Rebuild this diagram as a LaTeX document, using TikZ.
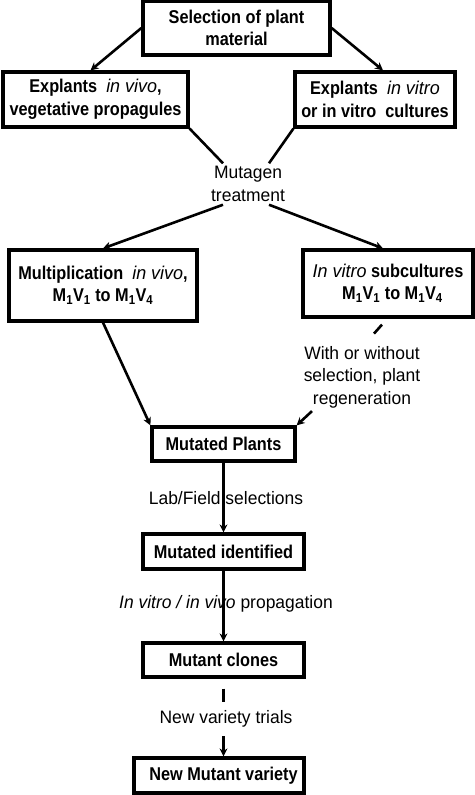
\documentclass[tikz,border=0pt]{standalone}
\usepackage{fontspec}
\setmainfont{Liberation Sans}[FakeStretch=0.97,BoldFeatures={FakeStretch=0.88}]
\usetikzlibrary{arrows.meta}
\begin{document}
\begin{tikzpicture}[x=1pt,y=-1pt,font=\fontsize{18}{22.5}\selectfont,
    >={Stealth[length=8pt,width=8pt]}]

      \useasboundingbox (0,0) rectangle (474,795);

      \begin{scope}[every node/.style={draw,line width=3.2pt,align=center,inner sep=0pt,
          font=\fontsize{18.5}{22.5}\selectfont\bfseries}]
        \node[minimum width=187pt,minimum height=54pt] (sel)    at (236.5,28)  {Selection of plant\\material};
        \node[minimum width=185pt,minimum height=55pt] (vivo)   at (95.5,99.5) {Explants\ \ {\mdseries\itshape in vivo},\\vegetative propagules};
        \node[minimum width=160pt,minimum height=55pt] (vitro)  at (375,99.5)  {Explants\ \ {\mdseries\itshape in vitro}\\or in vitro\ \ cultures};
        \node[minimum width=188pt,minimum height=71pt] (mult)   at (103,285.5) {Multiplication\ \ {\mdseries\itshape in vivo},\\M\textsubscript{1}V\textsubscript{1} to M\textsubscript{1}V\textsubscript{4}};
        \node[minimum width=170pt,minimum height=67pt] (sub)    at (388,283.5) {{\mdseries\itshape In vitro} subcultures\\\ \ M\textsubscript{1}V\textsubscript{1} to M\textsubscript{1}V\textsubscript{4}};
        \node[minimum width=143pt,minimum height=34pt] (plants) at (223.5,444) {Mutated Plants};
        \node[minimum width=161pt,minimum height=35pt] (ident)  at (223.5,551.5) {Mutated identified};
        \node[minimum width=161pt,minimum height=34pt] (clones) at (223.5,660) {Mutant clones};
        \node[minimum width=170pt,minimum height=35pt] (newvar) at (219,775.5) {\ \ New Mutant variety};
      \end{scope}

      \begin{scope}[every node/.style={align=center,inner sep=3pt}]
        \node (mutagen) at (248,184) {Mutagen\\treatment};
        \node (regen)   at (362,377) {With or without\\selection, plant\\regeneration};
        \node (labsel)  at (226,498) {Lab/Field selections};
        \node (prop)    at (226,604) {\textit{In vitro / in vivo} propagation};
        \node[minimum height=34pt] (trials) at (226,719) {New variety trials};
      \end{scope}

      \begin{scope}[line width=2.6pt]
        \begin{scope}[every edge/.style={draw}]
          \path (sel.west)  edge[->] ([xshift=-5pt]vivo.north);
          \path (sel.east)  edge[->] ([xshift=8pt]vitro.north);
          \path (vivo.south east)  edge ([xshift=-25pt]mutagen.north);
          \path (vitro.south west) edge ([xshift=21pt]mutagen.north);
          \path ([xshift=-25pt]mutagen.south) edge[->] (mult.north);
          \path ([xshift=21pt]mutagen.south)  edge[->] ([xshift=-5pt]sub.north);
          \path (mult.south) edge[->] (plants.north west);
          \path ([xshift=-6pt,yshift=-6pt]sub.south) edge ([xshift=-14pt,yshift=-15pt]sub.south);
          \path ([xshift=-50pt]regen.south) edge[->] (plants.north east);
          \path (plants.south) edge[->] (ident.north);
          \path (ident.south)  edge[->] (clones.north);
          \path (clones.south) edge[shorten <=10pt] (clones.south |- trials.north);
          \path (clones.south |- trials.south) edge[->] (clones.south |- newvar.north);
        \end{scope}
      \end{scope}

    \end{tikzpicture}
\end{document}
